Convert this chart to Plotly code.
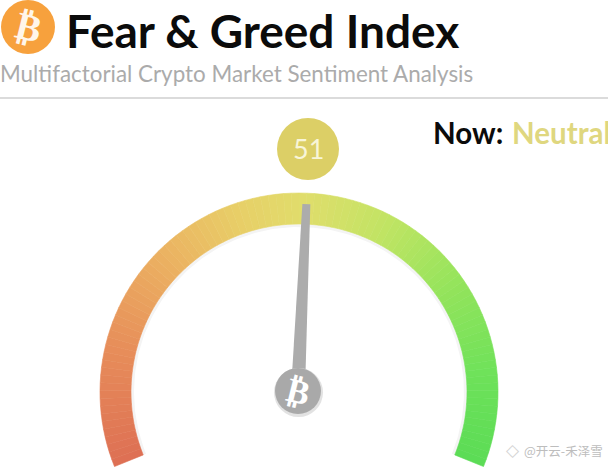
import numpy as np
import plotly.graph_objects as go

# Gauge data
gauge_value = 51
gauge_min = 0
gauge_max = 100
stop_values = [0, 15, 30, 42, 51, 62, 75, 88, 100]
stop_colors = [
    (222, 112, 84), (231, 140, 90), (236, 178, 98), (232, 208, 104), (224, 222, 108),
    (194, 228, 100), (148, 228, 92), (110, 226, 90), (92, 220, 86),
]

title_text = "Fear & Greed Index"
subtitle_text = "Multifactorial Crypto Market Sentiment Analysis"
now_label = "Now:"
now_class = "Neutral"
watermark = "@开云-禾泽雪"

W, H = 608, 467
CX, CY = 299, 392   # gauge centre in pixels
R_OUT, R_IN = 199, 168
START_ANGLE, END_ANGLE = 202, -22


def value_angle(v):
    return np.radians(START_ANGLE + (END_ANGLE - START_ANGLE) * (v - gauge_min) / (gauge_max - gauge_min))


def band(v0, v1, r0, r1, n=6):
    t = value_angle(np.linspace(v0, v1, n))
    xs = np.concatenate([r1 * np.cos(t), r0 * np.cos(t[::-1])])
    ys = np.concatenate([r1 * np.sin(t), r0 * np.sin(t[::-1])])
    return list(xs) + [xs[0]], list(ys) + [ys[0]]


def color_at(v):
    c = [np.interp(v, stop_values, [s[i] for s in stop_colors]) for i in range(3)]
    return "rgb(%d,%d,%d)" % tuple(c)


def px(x):
    return x / W


def py(y):
    return 1 - y / H


fig = go.Figure()

# soft shadow on the inner side of the arc
xs, ys = band(gauge_min, gauge_max, R_IN - 3, R_IN, n=200)
fig.add_trace(go.Scatter(x=xs, y=ys, mode="lines", fill="toself", fillcolor="rgb(244,244,244)",
                         line=dict(width=0), hoverinfo="skip"))

# colored arc, in thin slices so it looks like a gradient
slices = np.arange(gauge_min, gauge_max, 1.0)
for v in slices:
    xs, ys = band(v, v + 1, R_IN, R_OUT)
    col = color_at(v + 0.5)
    fig.add_trace(go.Scatter(x=xs, y=ys, mode="lines", fill="toself", fillcolor=col,
                             line=dict(width=0.6, color=col), hoverinfo="skip"))

# needle
tip = value_angle(gauge_value)
nx, ny = np.cos(tip), np.sin(tip)
ox, oy = -ny, nx
needle_x = [-1 + 7 * ox, 188 * nx + 4 * ox, 188 * nx - 4 * ox, -1 - 7 * ox, -1 + 7 * ox]
needle_y = [1 + 7 * oy, 188 * ny + 4 * oy, 188 * ny - 4 * oy, 1 - 7 * oy, 1 + 7 * oy]
fig.add_trace(go.Scatter(x=needle_x, y=needle_y, mode="lines", fill="toself",
                         fillcolor="rgb(172,172,172)", line=dict(width=0), hoverinfo="skip"))

shapes = [
    # logo
    dict(type="circle", xref="paper", yref="paper", x0=px(1), x1=px(55), y0=py(54), y1=py(0),
         fillcolor="#F7A13D", line=dict(width=0)),
    # header rule
    dict(type="line", xref="paper", yref="paper", x0=0, x1=1, y0=py(98), y1=py(98),
         line=dict(color="#CFCFCF", width=1.5)),
    # value badge
    dict(type="circle", xref="paper", yref="paper", x0=px(277), x1=px(339), y0=py(180), y1=py(118),
         fillcolor="#DCCF66", line=dict(width=0)),
    # hub shadow and hub
    dict(type="circle", xref="paper", yref="paper", x0=px(274), x1=px(323), y0=py(417), y1=py(368),
         fillcolor="#E2E2E2", line=dict(width=0)),
    dict(type="circle", xref="paper", yref="paper", x0=px(275), x1=px(321), y0=py(414), y1=py(368),
         fillcolor="#A9A9A9", line=dict(width=0)),
]


def label(x, y, text, size, color, font="Lato", anchor="left", angle=0):
    return dict(xref="paper", yref="paper", x=px(x), y=py(y), text=text, showarrow=False,
                xanchor=anchor, yanchor="middle", textangle=angle,
                font=dict(family=font, size=size, color=color))


annotations = [
    label(28, 27, "<b>₿</b>", 38, "#FFF6EA", font="DejaVu Sans", anchor="center", angle=14),
    label(64, 30, "<b>" + title_text + "</b>", 46, "#0B0B0B"),
    label(-2, 74, subtitle_text, 22.4, "#ABABAB"),
    label(308, 149, str(gauge_value), 27, "#F8F5D8", anchor="center"),
    label(431, 132, "<b>" + now_label + "</b>", 29.5, "#0B0B0B"),
    label(510, 132, "<b>" + now_class + "</b>", 29.5, "#DFD77F"),
    label(298, 391, "<b>₿</b>", 34, "white", font="DejaVu Sans", anchor="center", angle=14),
    label(504, 450, "◇", 17, "#D4D4D4", font="DejaVu Sans"),
    label(522, 450, watermark, 12.5, "#BDBDBD", font="Noto Sans CJK SC"),
]

fig.update_layout(
    width=W, height=H,
    margin=dict(l=0, r=0, t=0, b=0),
    showlegend=False,
    paper_bgcolor="white",
    plot_bgcolor="white",
    xaxis=dict(range=[-CX, W - CX], visible=False, fixedrange=True),
    yaxis=dict(range=[CY - H, CY], visible=False, fixedrange=True),
    shapes=shapes,
    annotations=annotations,
)

fig.write_html("out.html", config=dict(displayModeBar=False),
               post_script="document.body.style.margin='0';document.body.style.overflow='hidden';")
